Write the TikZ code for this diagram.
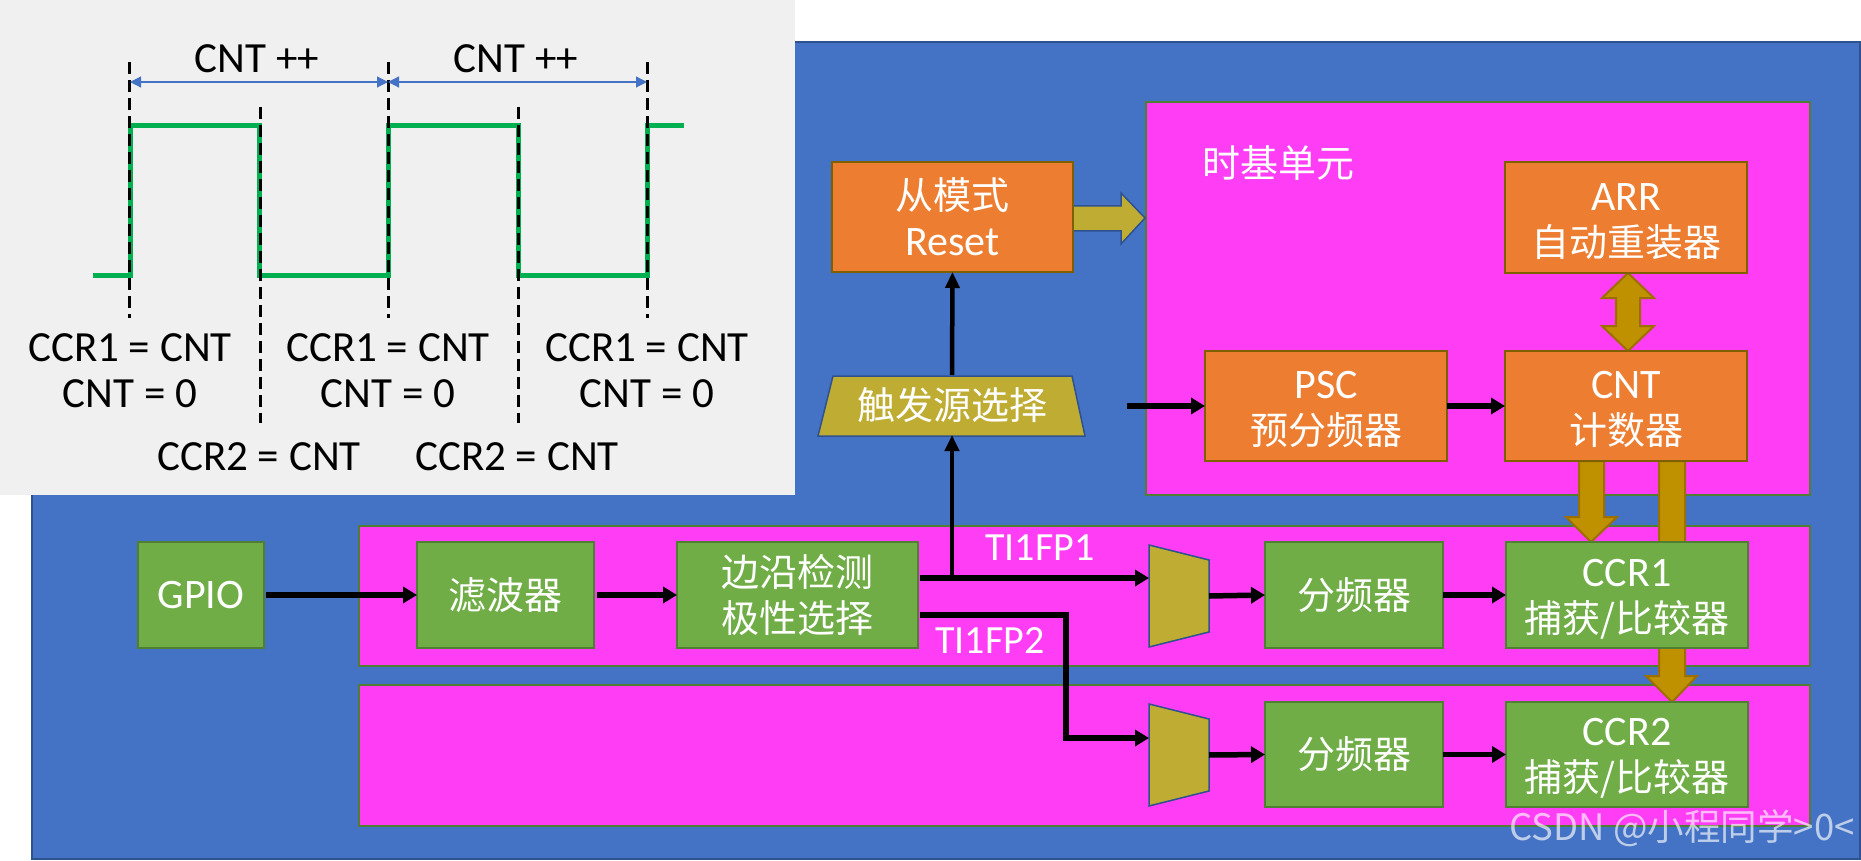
\documentclass[tikz,border=0pt]{standalone}
\usepackage{fontspec}
\setmainfont{Carlito}
\newfontfamily\cjk{Noto Sans CJK SC}
\newfontfamily\latn{Carlito}
\newcommand{\lat}[1]{{\latn\fontsize{42}{46}\selectfont #1}}
\newcommand{\toplat}[1]{{\latn\fontsize{42}{46}\selectfont\rule{0pt}{35pt}#1}}
\usetikzlibrary{arrows.meta}
\definecolor{bluebg}{HTML}{4472C4}
\definecolor{bluedk}{HTML}{2F528F}
\definecolor{pinkbg}{HTML}{FF3DF5}
\definecolor{orangebox}{HTML}{ED7D31}
\definecolor{orangeln}{HTML}{7F6000}
\definecolor{greenbox}{HTML}{70AD47}
\definecolor{greenln}{HTML}{507E32}
\definecolor{goldarr}{HTML}{BF9000}
\definecolor{goldln}{HTML}{9C6F00}
\definecolor{mustard}{HTML}{BFAC33}
\definecolor{panel}{HTML}{F0F0F0}
\definecolor{wave}{HTML}{00B050}
\tikzset{
  boxbase/.style={rectangle,inner sep=0pt,outer sep=0pt,align=center,text=white,line width=2pt,
    font=\cjk\fontsize{38}{46}\selectfont},
  orangeblock/.style={boxbase,fill=orangebox,draw=orangeln},
  greenblock/.style={boxbase,fill=greenbox,draw=greenln},
  pinkarea/.style={fill=pinkbg,draw=greenln,line width=2pt},
  sig/.style={draw=black,line width=5.5pt,-{Triangle[length=14pt,width=16pt]}},
  thinsig/.style={draw=black,line width=4.5pt,-{Triangle[length=16pt,width=14pt]}},
  goldblock/.style={fill=goldarr,draw=goldln,line width=2pt},
  muxshape/.style={fill=mustard,draw=bluedk,line width=1.5pt},
  lbl/.style={inner sep=0pt,outer sep=0pt,align=center,text=black,font=\fontsize{43}{46}\selectfont},
  wlbl/.style={inner sep=0pt,outer sep=0pt,text=white,font=\fontsize{40}{45}\selectfont},
  dash1/.style={draw=black,line width=3pt,dash pattern=on 12pt off 6pt},
  span/.style={draw=bluebg,line width=1.2pt,{Triangle[length=11pt,width=11pt]}-{Triangle[length=11pt,width=11pt]}},
  wavep/.style={draw=wave,line width=5pt,line join=miter},
}
\begin{document}
\begin{tikzpicture}[x=1pt,y=-1pt]
\useasboundingbox (0,0) rectangle (1861,861);
\fill[white] (0,0) rectangle (1861,861);
% background
\fill[bluebg,draw=bluedk,line width=1.5pt] (32,42) rectangle (1860,859);
\fill[panel] (0,0) rectangle (795,495);
% pink areas
\path[pinkarea] (1146,102) rectangle (1810,495);
\path[pinkarea] (359,526) rectangle (1810,666);
\path[pinkarea] (359,685) rectangle (1810,826);
% gold block arrows
\path[goldblock] (1579,461) -- (1604,461) -- (1604,517) -- (1617,517) -- (1591,542) -- (1566,517) -- (1579,517) -- cycle;
\path[goldblock] (1659,461) -- (1685,461) -- (1685,676) -- (1697,676) -- (1672,702) -- (1646,676) -- (1659,676) -- cycle;
\path[goldblock] (1628,273) -- (1654,298) -- (1640,298) -- (1640,326) -- (1654,326) -- (1628,351) -- (1602,326) -- (1616,326) -- (1616,298) -- (1602,298) -- cycle;
\path[fill=mustard,draw=bluedk,line width=1.5pt] (1073,206) -- (1121,206) -- (1121,193) -- (1145,218) -- (1121,244) -- (1121,231) -- (1073,231) -- cycle;
% blocks
\node[orangeblock,minimum width=241pt,minimum height=110pt] (slave) at (952.5,217) {从模式\\\lat{Reset}};
\node[orangeblock,minimum width=242pt,minimum height=111pt] (arr) at (1626,217.5) {\toplat{ARR}\\自动重装器};
\node[orangeblock,minimum width=242pt,minimum height=110pt] (psc) at (1326,406) {\toplat{PSC}\\预分频器};
\node[orangeblock,minimum width=242pt,minimum height=110pt] (cnt) at (1626,406) {\toplat{CNT}\\计数器};
\node[greenblock,minimum width=126pt,minimum height=106pt] (gpio) at (201,595) {\lat{GPIO}};
\node[greenblock,minimum width=177pt,minimum height=106pt] (filt) at (505.5,595) {滤波器};
\node[greenblock,minimum width=241pt,minimum height=106pt] (edge) at (797.5,595) {边沿检测\\极性选择};
\node[greenblock,minimum width=178pt,minimum height=106pt] (div1) at (1354,595) {分频器};
\node[greenblock,minimum width=178pt,minimum height=105pt] (div2) at (1354,754.5) {分频器};
\node[greenblock,minimum width=242pt,minimum height=106pt] (ccr1) at (1627,595) {\toplat{CCR1}\\捕获/比较器};
\node[greenblock,minimum width=242pt,minimum height=105pt] (ccr2) at (1627,754.5) {\toplat{CCR2}\\捕获/比较器};
% trapezoid and muxes
\path[muxshape] (833,376) -- (1072,376) -- (1085,436) -- (818,436) -- cycle;
\node[inner sep=0pt,outer sep=0pt,minimum width=267pt,minimum height=60pt,text=white,font=\cjk\fontsize{38}{46}\selectfont] (trig) at (952,405) {触发源选择};
\path[muxshape] (1149,545) -- (1209,560) -- (1209,632) -- (1149,647) -- cycle;
\node[inner sep=0pt,outer sep=0pt,minimum width=60pt,minimum height=102pt] (mux1) at (1179,596) {};
\path[muxshape] (1149,704) -- (1209,719) -- (1209,791) -- (1149,806) -- cycle;
\node[inner sep=0pt,outer sep=0pt,minimum width=60pt,minimum height=102pt] (mux2) at (1179,755) {};
% connectors
\draw[thinsig] (trig.north) -- (slave.south);
\coordinate (branch) at (952,578);
\draw[thinsig] (branch) -- (trig.south);
\coordinate (edgeA) at (920,578);
\coordinate (edgeB) at (920,615);
\coordinate (muxinA) at (1149,578);
\coordinate (bend) at (1066,615);
\coordinate (muxinB) at (1149,738);
\draw[sig] (edgeA) -- (muxinA);
\draw[sig] (edgeB) -- (bend) |- (muxinB);
\draw[sig] ([xshift=2pt]gpio.east) -- (filt.west);
\draw[sig] ([xshift=3pt]filt.east) -- (edge.west);
\draw[sig] (mux1.east) -- (div1.west);
\draw[sig] (mux2.east) -- (div2.west);
\draw[sig] (div1.east) -- (ccr1.west);
\draw[sig] (div2.east) -- (ccr2.west);
\coordinate (tbin) at (1127,406);
\draw[sig] (tbin) -- (psc.west);
\draw[sig] (psc.east) -- (cnt.west);
% labels on areas
\node[wlbl,font=\cjk\fontsize{38}{46}\selectfont] (tblabel) at (1278,163) {时基单元};
\node[wlbl] (fp1) at (1040,548) {TI1FP1};
\node[wlbl] (fp2) at (990,641) {TI1FP2};
% waveform panel
\coordinate (a1) at (129.5,62); \coordinate (a1b) at (129.5,318);
\coordinate (a2) at (388,62); \coordinate (a2b) at (388,318);
\coordinate (a3) at (647,62); \coordinate (a3b) at (647,318);
\coordinate (c1) at (260,107); \coordinate (c1b) at (260,423);
\coordinate (c2) at (518,107); \coordinate (c2b) at (518,423);
\path[wavep] (93,275) -- (130,275) -- (130,126) -- (259,126) -- (259,275) -- (388,275) -- (388,126) -- (518,126) -- (518,275) -- (647,275) -- (647,126) -- (684,126);
\draw[dash1] (a1) -- (a1b);
\draw[dash1] (a2) -- (a2b);
\draw[dash1] (a3) -- (a3b);
\draw[dash1] (c1) -- (c1b);
\draw[dash1] (c2) -- (c2b);
\coordinate (s1) at (130,82); \coordinate (s2) at (388,82); \coordinate (s3) at (647,82);
\draw[span] (s1) -- (s2);
\draw[span] (s2) -- (s3);
\node[lbl] (t1) at (257,59) {CNT ++};
\node[lbl] (t2) at (516,59) {CNT ++};
\node[lbl] (t3) at (130,371) {CCR1 = CNT\\CNT = 0};
\node[lbl] (t4) at (388,371) {CCR1 = CNT\\CNT = 0};
\node[lbl] (t5) at (647,371) {CCR1 = CNT\\CNT = 0};
\node[lbl] (t6) at (259,457) {CCR2 = CNT};
\node[lbl] (t7) at (517,457) {CCR2 = CNT};
% watermark
\node[inner sep=0pt,text=white,text opacity=0.65,font=\cjk\fontsize{36.5}{40}\selectfont] (wm) at (1682,828) {CSDN @小程同学>0<};
\end{tikzpicture}
\end{document}
